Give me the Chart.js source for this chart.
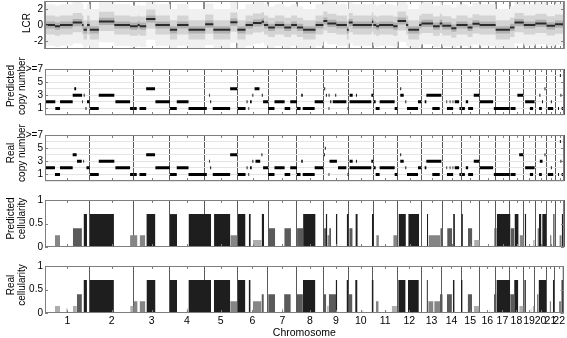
<!DOCTYPE html>
<html>
<head>
<meta charset="utf-8">
<script src="https://cdn.jsdelivr.net/npm/chart.js@4.4.1/dist/chart.umd.min.js"></script>
<style>
  html, body { margin: 0; padding: 0; background: #fff; }
  body { width: 567px; height: 338px; position: relative; overflow: hidden; }
  canvas { position: absolute; left: 0; }
</style>
</head>
<body>
<canvas id="lcr"></canvas>
<canvas id="predCN"></canvas>
<canvas id="realCN"></canvas>
<canvas id="predCell"></canvas>
<canvas id="realCell"></canvas>
<script>
// ===== データ =====
const chromosomes = ['1','2','3','4','5','6','7','8','9','10','11','12','13','14','15','16','17','18','19','20','21','22'];
// chromosome lengths, Mb
const chromLengths = [247.2, 242.9, 199.5, 191.3, 180.9, 170.9, 158.8, 146.3, 140.3, 135.4, 134.5,
                      132.3, 114.1, 106.4, 100.3, 88.8, 78.8, 76.1, 63.8, 62.4, 46.9, 49.7];

// segments: [start, end, value], positions in Mb along the concatenated genome
const lcrSegments = [
  [0,55,0],[55,83,-0.15],[83,153,0],[153,205,0.3],[205,213,0],[213,232,-0.6],[232,247,0],
  [247,298,-0.6],[298,383,0.45],[383,470,0],[470,512,-0.15],
  [512,523,0],[523,559,-0.15],[559,610,0.75],[610,690,0],
  [690,730,-0.6],[730,793,0],[793,885,-0.6],[885,930,0.1],
  [930,1024,-0.6],[1024,1063,0.35],
  [1063,1108,-0.6],[1108,1149,0],[1149,1197,0.25],[1197,1210,0.4],[1210,1233,0],
  [1233,1270,-0.3],[1270,1322,0],[1322,1360,-0.3],[1360,1392,0],
  [1392,1426,-0.3],[1426,1495,-0.6],[1495,1538,0],
  [1538,1560,0.5],[1560,1610,0.2],[1610,1668,0],[1668,1678,-0.6],
  [1678,1700,0.3],[1700,1806,0],[1806,1814,0.4],
  [1814,1830,0],[1830,1846,-0.15],[1846,1924,0],[1924,1948,-0.15],
  [1948,1995,0.5],[1995,2007,0],[2007,2067,-0.6],[2067,2080,0],
  [2080,2144,0.2],[2144,2181,-0.15],[2181,2195,0.2],
  [2195,2245,-0.1],[2245,2273,-0.4],[2273,2301,0],
  [2301,2335,0],[2335,2362,-0.3],[2362,2401,0.15],
  [2401,2490,0],
  [2490,2569,-0.6],
  [2569,2594,-0.3],[2594,2645,0.3],
  [2645,2709,0],
  [2709,2771,0.2],
  [2771,2818,-0.1],
  [2818,2868,0.1]
];
// spread of the LCR cloud around each segment mean (inner, middle, outer)
const lcrSpread = [0.45, 1.2, 2.6];

const predictedCN = [
  [0,57,2],[57,83,1],[83,153,2],[153,205,3],[162,172,4],[206,210,2],[214,219,3],[224,229,1],[232,247,2],
  [249,297,1],[297,383,3],[389,470,2],[470,490,1],
  [492,507,1],[514,519,2],[522,559,1],[559,608,4],[610,690,2],
  [691,728,1],[728,793,2],[793,881,1],
  [881,894,1],[896,900,3],[906,910,3],[913,918,2],[927,1023,1],[1023,1062,4],
  [1065,1108,1],[1114,1119,2],[1124,1128,1],[1133,1142,2],[1146,1151,3],[1158,1185,4],[1188,1193,3],[1198,1203,3],[1205,1233,2],
  [1233,1268,1],[1268,1324,2],[1324,1355,1],[1355,1392,2],
  [1392,1412,1],[1416,1424,3],[1424,1490,1],[1490,1538,2],
  [1543,1548,4],[1552,1557,3],[1567,1572,3],[1604,1609,3],[1567,1571,1],[1576,1582,2],[1590,1665,2],[1672,1677,1],
  [1683,1700,3],[1718,1723,3],[1683,1803,2],[1803,1814,3],
  [1816,1827,2],[1827,1849,1],[1849,1932,2],[1932,1948,1],
  [1963,1968,4],[1963,1982,3],[1991,1996,2],[2000,2061,1],[2061,2080,2],
  [2098,2107,2],[2107,2190,3],[2140,2181,1],
  [2218,2222,2],[2236,2240,2],[2252,2256,2],[2221,2255,1],[2264,2288,2],[2290,2300,1],
  [2304,2320,1],[2325,2338,2],[2338,2365,1],[2369,2401,3],
  [2402,2476,2],
  [2480,2568,1],
  [2572,2600,1],[2586,2590,3],[2610,2642,3],
  [2653,2705,2],[2679,2697,1],
  [2724,2728,7],[2732,2737,3],[2760,2765,4],[2746,2751,2],[2730,2745,1],
  [2795,2800,2],[2778,2808,1],
  [2835,2840,1],[2845,2850,6],[2848,2853,3],[2855,2866,1]
];

const realCN = [
  [0,55,2],[55,83,1],[83,153,2],[153,175,4],[177,203,3],[205,209,2],[212,216,3],[222,226,1],[229,247,2],
  [249,297,1],[297,383,3],[389,470,2],[470,490,1],
  [492,507,1],[514,519,2],[522,559,1],[559,608,4],[610,690,2],
  [691,728,1],[728,793,2],[793,881,1],
  [881,894,1],[896,900,3],[906,910,3],[913,918,2],[927,1023,1],[1023,1062,4],
  [1065,1108,1],[1114,1119,2],[1124,1128,1],[1133,1142,2],[1146,1151,3],[1163,1189,3],[1196,1201,4],[1205,1233,2],
  [1233,1268,1],[1268,1324,2],[1324,1355,1],[1355,1392,2],
  [1392,1412,1],[1416,1424,3],[1424,1490,1],[1490,1538,2],
  [1541,1546,4],[1546,1551,5],[1567,1571,1],[1572,1613,3],[1619,1665,2],[1672,1677,1],
  [1683,1700,3],[1718,1723,3],[1683,1803,2],[1803,1814,3],
  [1816,1827,2],[1827,1849,1],[1849,1932,2],[1932,1948,1],
  [1963,1968,4],[1963,1982,3],[1991,1996,2],[2000,2061,1],[2061,2080,2],
  [2098,2107,2],[2107,2190,3],[2140,2181,1],
  [2218,2222,2],[2236,2240,2],[2252,2256,2],[2221,2255,1],[2264,2288,2],[2290,2300,1],
  [2304,2320,1],[2325,2338,2],[2338,2365,1],[2369,2401,3],
  [2402,2476,2],
  [2480,2568,1],
  [2572,2600,1],[2586,2591,3],[2620,2642,4],
  [2653,2705,2],[2679,2697,1],
  [2724,2729,5],[2734,2749,3],[2760,2765,4],[2730,2745,1],
  [2795,2800,2],[2778,2808,1],
  [2835,2840,1],[2845,2850,6],[2848,2853,3],[2855,2866,1]
];

const predictedCell = [
  [55,83,0.25],[154,204,0.4],[213,232,0.7],
  [247,381,0.7],
  [470,511,0.25],[523,554,0.25],[560,610,0.7],
  [690,730,0.7],[793,918,0.7],
  [934,1024,0.7],[1024,1063,0.25],
  [1065,1108,0.7],[1126,1137,0.7],[1149,1197,0.15],[1197,1210,0.7],
  [1234,1272,0.4],[1322,1359,0.4],
  [1393,1426,0.4],[1426,1495,0.7],
  [1542,1555,0.4],[1560,1573,0.25],[1570,1581,0.4],[1551,1560,0.7],[1607,1616,0.7],[1667,1678,0.7],
  [1681,1700,0.4],[1715,1728,0.7],[1806,1817,0.7],
  [1830,1845,0.25],[1924,1946,0.25],
  [1953,1994,0.7],[2007,2067,0.7],
  [2110,2117,0.7],[2119,2184,0.25],[2184,2199,0.4],
  [2222,2250,0.4],[2255,2265,0.7],[2300,2309,0.7],
  [2337,2361,0.4],[2371,2402,0.15],
  [2482,2496,0.4],[2496,2572,0.7],
  [2572,2594,0.4],[2594,2617,0.7],[2622,2646,0.25],
  [2650,2659,0.7],[2697,2706,0.15],
  [2721,2729,0.4],[2729,2743,0.7],[2747,2771,0.7],
  [2790,2799,0.25],[2808,2816,0.7],
  [2842,2855,0.25],[2855,2866,0.7]
];

const realCell = [
  [55,83,0.15],[116,126,0.1],[154,176,0.15],[176,204,0.4],[213,232,0.7],
  [247,381,0.7],
  [471,490,0.15],[490,512,0.25],[523,555,0.25],[561,611,0.7],
  [690,730,0.7],[782,792,0.1],[793,918,0.7],
  [934,1024,0.7],[1024,1063,0.25],
  [1065,1108,0.7],[1126,1137,0.7],[1149,1197,0.25],[1197,1210,0.4],
  [1234,1272,0.4],[1309,1318,0.1],[1322,1359,0.4],
  [1393,1426,0.4],[1426,1495,0.7],
  [1542,1555,0.4],[1560,1569,0.15],[1569,1610,0.4],[1607,1616,0.7],[1667,1678,0.7],
  [1681,1700,0.4],[1715,1728,0.7],[1752,1761,0.05],[1806,1817,0.7],
  [1830,1845,0.25],[1880,1889,0.05],[1917,1946,0.15],
  [1953,1994,0.7],[2007,2067,0.7],
  [2110,2117,0.7],[2119,2148,0.25],[2152,2184,0.25],[2184,2199,0.4],
  [2222,2250,0.4],[2255,2265,0.7],[2300,2309,0.7],
  [2337,2361,0.4],[2371,2402,0.15],
  [2455,2460,0.1],
  [2482,2496,0.4],[2496,2572,0.7],
  [2572,2594,0.4],[2594,2617,0.7],[2622,2646,0.15],
  [2650,2659,0.7],[2684,2691,0.1],[2697,2706,0.15],
  [2721,2729,0.4],[2729,2771,0.7],
  [2790,2799,0.25],[2808,2816,0.7],
  [2842,2855,0.25],[2855,2866,0.7]
];

// ===== 共通設定 =====
const FONT = 'Arial, "Liberation Sans", sans-serif';
const MARGIN = 16;  // canvas space above / below each panel
const bounds = [0];
chromLengths.forEach(l => bounds.push(bounds[bounds.length - 1] + l));
const centers = chromLengths.map((l, i) => bounds[i] + l / 2);
const genomeLength = bounds[bounds.length - 1];

// segments -> line points with gaps between them
function toLine(segs) {
    const pts = [];
    segs.forEach(([s, e, v]) => pts.push({x: s, y: v}, {x: e, y: v}, {x: e, y: null}));
    return pts;
}

function cellColor(v) {
    if (v >= 0.6) return '#1e1e1e';
    if (v >= 0.35) return '#5a5a5a';
    if (v >= 0.2) return '#858585';
    if (v >= 0.12) return '#adadad';
    return '#cdcdcd';
}

// 枠と内向きの目盛り
const framePlugin = {
    id: 'frame',
    afterDatasetsDraw(chart) {
        const {ctx, chartArea: a, scales} = chart;
        ctx.save();
        ctx.strokeStyle = '#7f7f7f';
        ctx.lineWidth = 1;
        ctx.strokeRect(a.left + 0.5, a.top + 0.5, a.right - a.left - 1, a.bottom - a.top - 1);
        ctx.beginPath();
        scales.x.ticks.forEach(t => {
            const px = Math.round(scales.x.getPixelForValue(t.value)) + 0.5;
            ctx.moveTo(px, a.top); ctx.lineTo(px, a.top + 3);
            ctx.moveTo(px, a.bottom); ctx.lineTo(px, a.bottom - 3);
        });
        scales.y.ticks.forEach(t => {
            if (!t.label) return;
            const py = Math.round(scales.y.getPixelForValue(t.value)) + 0.5;
            ctx.moveTo(a.left, py); ctx.lineTo(a.left + 3, py);
            ctx.moveTo(a.right, py); ctx.lineTo(a.right - 3, py);
        });
        ctx.stroke();
        ctx.restore();
    }
};

// y 軸タイトル（縦書き、少し上寄せ）
const yTitlePlugin = {
    id: 'yTitle',
    afterDraw(chart, args, o) {
        if (!o.lines) return;
        const {ctx, chartArea: a} = chart;
        const cy = (a.top + a.bottom) / 2 - o.shift;
        ctx.save();
        ctx.fillStyle = '#000';
        ctx.font = '10px ' + FONT;
        ctx.textAlign = 'center';
        ctx.textBaseline = 'middle';
        o.lines.forEach((t, i) => {
            ctx.save();
            ctx.translate(o.x[i], cy);
            ctx.rotate(-Math.PI / 2);
            ctx.fillText(t, 0, 0);
            ctx.restore();
        });
        ctx.restore();
    }
};

function makePanel(id, top, bottom, yOpts, datasets, opts) {
    const last = !!opts.last;
    const canvas = document.getElementById(id);
    const canvasTop = top - MARGIN;
    const canvasHeight = last ? 338 - canvasTop : bottom - top + 2 * MARGIN;
    canvas.width = 567;
    canvas.height = canvasHeight;
    canvas.style.top = canvasTop + 'px';

    new Chart(canvas.getContext('2d'), {
        type: 'line',
        data: {datasets: datasets},
        options: {
            responsive: false,
            animation: false,
            events: [],
            layout: {padding: {left: 0, right: 3, top: MARGIN, bottom: last ? 0 : MARGIN}},
            plugins: {
                legend: {display: false},
                tooltip: {enabled: false},
                yTitle: {lines: opts.title, x: opts.titleX, shift: opts.shift}
            },
            elements: {point: {radius: 0}, line: {tension: 0}},
            scales: {
                x: {
                    type: 'linear', min: 0, max: genomeLength,
                    afterBuildTicks: s => { s.ticks = centers.map(v => ({value: v})); },
                    afterFit: s => { s.height = last ? 25 : 0; },
                    ticks: {
                        display: last, autoSkip: false, maxRotation: 0, padding: 2,
                        color: '#000', font: {family: FONT, size: 10.5},
                        callback: (v, i) => chromosomes[i]
                    },
                    grid: {display: false, drawTicks: false},
                    border: {display: false},
                    title: {
                        display: last, text: 'Chromosome', color: '#000',
                        font: {family: FONT, size: 10.5, lineHeight: 1}, padding: 0
                    }
                },
                bounds: {
                    type: 'linear', position: 'bottom', min: 0, max: genomeLength,
                    afterBuildTicks: s => { s.ticks = bounds.map(v => ({value: v})); },
                    afterFit: s => { s.height = 0; },
                    ticks: {display: false},
                    grid: {color: opts.boundColor, lineWidth: opts.boundWidth, drawTicks: false},
                    border: {display: false}
                },
                y: Object.assign({
                    afterFit: s => { s.width = 45; },
                    border: {display: false}
                }, yOpts)
            }
        },
        plugins: [framePlugin, yTitlePlugin]
    });
}

const yTickFont = {family: FONT, size: 10};

// ===== LCR =====
const lcrDatasets = [{
    data: toLine(lcrSegments), borderColor: '#2a2a2a', borderWidth: 2, spanGaps: false
}];
const bandColors = ['#b0b0b0', '#d4d4d4', '#f0f0f0'];
lcrSpread.forEach((d, k) => {
    lcrDatasets.push({
        data: lcrSegments.flatMap(([s, e, m]) => [{x: s, y: m + d}, {x: e, y: m + d}]),
        borderWidth: 0, backgroundColor: bandColors[k], fill: '+1'
    });
    lcrDatasets.push({
        data: lcrSegments.flatMap(([s, e, m]) => [{x: s, y: m - d}, {x: e, y: m - d}]),
        borderWidth: 0, fill: false
    });
});
makePanel('lcr', 1, 49, {
    min: -3, max: 3,
    afterBuildTicks: s => { s.ticks = [-2, 0, 2].map(v => ({value: v})); },
    ticks: {padding: 2, color: '#000', font: yTickFont},
    grid: {display: false, drawTicks: false}
}, lcrDatasets, {title: ['LCR'], titleX: [27], shift: 2, boundColor: '#8c8c8c', boundWidth: 2});

// ===== copy number =====
const cnY = {
    min: 0, max: 7,
    afterBuildTicks: s => { s.ticks = [0, 1, 2, 3, 4, 5, 6, 7].map(v => ({value: v})); },
    ticks: {
        padding: 2, color: '#000', font: yTickFont, autoSkip: false,
        callback: v => (v === 7 ? '>=7' : (v % 2 === 1 ? String(v) : ''))
    },
    grid: {color: '#e4e4e4', lineWidth: 1, drawTicks: false}
};
function cnDatasets(segs) {
    return [{data: toLine(segs), borderColor: '#000', borderWidth: 3, borderCapStyle: 'butt', spanGaps: false}];
}
makePanel('predCN', 69, 115, cnY, cnDatasets(predictedCN),
    {title: ['Predicted', 'copy number'], titleX: [11.5, 22.5], shift: 6, boundColor: '#5a5a5a', boundWidth: 1});
makePanel('realCN', 135, 181, cnY, cnDatasets(realCN),
    {title: ['Real', 'copy number'], titleX: [11.5, 22.5], shift: 5, boundColor: '#5a5a5a', boundWidth: 1});

// ===== cellularity =====
const cellY = {
    min: 0, max: 1,
    afterBuildTicks: s => { s.ticks = [0, 0.5, 1].map(v => ({value: v})); },
    ticks: {padding: 2, color: '#000', font: yTickFont, callback: v => String(v)},
    grid: {display: false, drawTicks: false}
};
function cellDatasets(segs) {
    const groups = {};
    segs.forEach(seg => {
        const c = cellColor(seg[2]);
        (groups[c] = groups[c] || []).push(seg);
    });
    // darker colours drawn on top
    return Object.keys(groups).sort().map(c => ({
        data: toLine(groups[c]), borderWidth: 0, backgroundColor: c, fill: 'origin', spanGaps: false
    }));
}
makePanel('predCell', 200, 247, cellY, cellDatasets(predictedCell),
    {title: ['Predicted', 'cellularity'], titleX: [11.5, 22.5], shift: 5, boundColor: '#5a5a5a', boundWidth: 1});
makePanel('realCell', 266, 313, cellY, cellDatasets(realCell),
    {title: ['Real', 'cellularity'], titleX: [11.5, 22.5], shift: 4.5, boundColor: '#5a5a5a', boundWidth: 1, last: true});
</script>
</body>
</html>
